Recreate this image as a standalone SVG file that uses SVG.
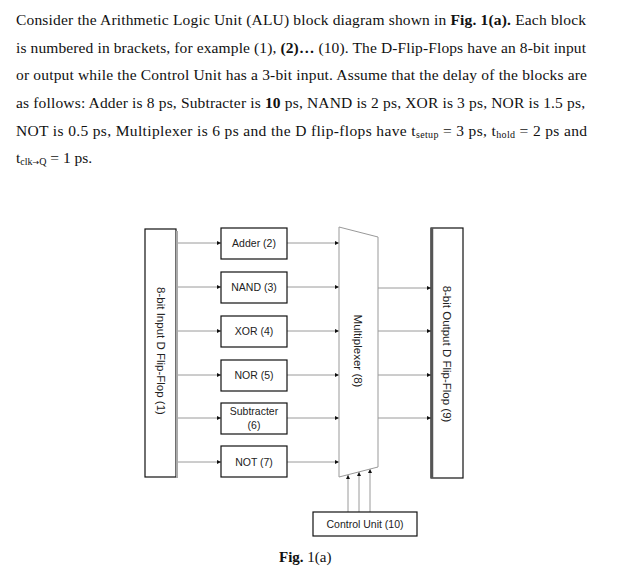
<svg xmlns="http://www.w3.org/2000/svg" width="619" height="580" viewBox="0 0 619 580">
<style>
.p{font-family:"Liberation Serif","Times New Roman",serif;font-size:15.5px;fill:#111}
.b{font-weight:bold}
.s{font-family:"Liberation Serif","Times New Roman",serif;font-size:10px}
.ar{font-family:"DejaVu Sans",sans-serif;font-size:8px}
.lbl{font-family:"Liberation Sans",Arial,sans-serif;font-size:10.5px;fill:#222;text-anchor:middle}
.vl{font-size:11.5px}
.box{fill:#fff;stroke:#111;stroke-width:1.2}
.con{stroke:#9a9a9a;stroke-width:1;fill:none}
</style>
<defs>
<marker id="ah" markerUnits="userSpaceOnUse" markerWidth="5" markerHeight="5" refX="4" refY="2" orient="auto">
<path d="M0,0 L4,2 L0,4 Z" fill="#111"/>
</marker>
</defs>
<rect width="619" height="580" fill="#fff"/>
<g id="paragraph">
<text class="p" x="16" y="25" textLength="570" lengthAdjust="spacing">Consider the Arithmetic Logic Unit (ALU) block diagram shown in <tspan class="b">Fig. 1(a).</tspan> Each block</text>
<text class="p" x="16" y="53" textLength="570" lengthAdjust="spacing">is numbered in brackets, for example (1), <tspan class="b">(2)…</tspan> (10). The D-Flip-Flops have an 8-bit input</text>
<text class="p" x="16" y="80" textLength="571" lengthAdjust="spacing">or output while the Control Unit has a 3-bit input. Assume that the delay of the blocks are</text>
<text class="p" x="16" y="108" textLength="569" lengthAdjust="spacing">as follows:  Adder is 8 ps, Subtracter is <tspan class="b">10</tspan> ps, NAND is 2 ps, XOR is 3 ps, NOR is 1.5 ps,</text>
<text class="p" x="16" y="136" textLength="571" lengthAdjust="spacing">NOT is 0.5 ps, Multiplexer is 6 ps and the D flip-flops have t<tspan class="s" dy="2">setup</tspan><tspan dy="-2"> = 3 ps, t</tspan><tspan class="s" dy="2">hold</tspan><tspan dy="-2"> = 2 ps and</tspan></text>
<text class="p" x="16" y="163">t<tspan class="s" dy="2">clk</tspan><tspan class="ar">→</tspan><tspan class="s">Q</tspan><tspan dy="-2"> = 1 ps.</tspan></text>
</g>
<g id="connectors">
<line class="con" x1="177" y1="243" x2="221" y2="243" marker-end="url(#ah)"/>
<line class="con" x1="177" y1="287" x2="221" y2="287" marker-end="url(#ah)"/>
<line class="con" x1="177" y1="331" x2="221" y2="331" marker-end="url(#ah)"/>
<line class="con" x1="177" y1="375" x2="221" y2="375" marker-end="url(#ah)"/>
<line class="con" x1="177" y1="418" x2="221" y2="418" marker-end="url(#ah)"/>
<line class="con" x1="177" y1="462" x2="221" y2="462" marker-end="url(#ah)"/>
<line class="con" x1="287" y1="243" x2="339" y2="243" marker-end="url(#ah)"/>
<line class="con" x1="287" y1="287" x2="339" y2="287" marker-end="url(#ah)"/>
<line class="con" x1="287" y1="331" x2="339" y2="331" marker-end="url(#ah)"/>
<line class="con" x1="287" y1="375" x2="339" y2="375" marker-end="url(#ah)"/>
<line class="con" x1="287" y1="418" x2="339" y2="418" marker-end="url(#ah)"/>
<line class="con" x1="287" y1="462" x2="339" y2="462" marker-end="url(#ah)"/>
<line class="con" x1="378" y1="288" x2="431" y2="288" marker-end="url(#ah)"/>
<line class="con" x1="378" y1="331" x2="431" y2="331" marker-end="url(#ah)"/>
<line class="con" x1="378" y1="375" x2="431" y2="375" marker-end="url(#ah)"/>
<line class="con" x1="378" y1="418" x2="431" y2="418" marker-end="url(#ah)"/>
<line class="con" x1="348" y1="512" x2="348" y2="475" marker-end="url(#ah)"/>
<line class="con" x1="359" y1="512" x2="359" y2="472" marker-end="url(#ah)"/>
<line class="con" x1="370" y1="512" x2="370" y2="469" marker-end="url(#ah)"/>
</g>
<g id="input-ff">
<rect class="box" x="145" y="229" width="31" height="248"/>
<line x1="177" y1="231" x2="177" y2="478" stroke="#aaa" stroke-width="2"/>
<text class="lbl vl" transform="translate(157,351) rotate(90)">8-bit Input D Flip-Flop (1)</text>
</g>
<g id="adder">
<rect class="box" x="221" y="228" width="66" height="31"/>
<text class="lbl" x="254" y="247">Adder (2)</text>
</g>
<g id="nand">
<rect class="box" x="221" y="272" width="66" height="31"/>
<text class="lbl" x="254" y="291">NAND (3)</text>
</g>
<g id="xor">
<rect class="box" x="221" y="316" width="66" height="31"/>
<text class="lbl" x="254" y="335">XOR (4)</text>
</g>
<g id="nor">
<rect class="box" x="221" y="360" width="66" height="31"/>
<text class="lbl" x="254" y="379">NOR (5)</text>
</g>
<g id="subtracter">
<rect class="box" x="221" y="403" width="66" height="31"/>
<text class="lbl" x="254" y="415">Subtracter</text>
<text class="lbl" x="254" y="429">(6)</text>
</g>
<g id="not">
<rect class="box" x="221" y="446" width="66" height="31"/>
<text class="lbl" x="254" y="466">NOT (7)</text>
</g>
<g id="multiplexer">
<path d="M339,227 L378,237 L378,467 L339,477 Z" fill="#fff" stroke="#999" stroke-width="1"/>
<text class="lbl vl" transform="translate(354,351) rotate(90)">Multiplexer (8)</text>
</g>
<g id="output-ff">
<rect class="box" x="431" y="228" width="32" height="250"/>
<line x1="432" y1="228" x2="432" y2="478" stroke="#555" stroke-width="2.5"/>
<text class="lbl vl" transform="translate(443,354) rotate(90)">8-bit Output D Flip-Flop (9)</text>
</g>
<g id="control-unit">
<rect class="box" x="313" y="512" width="104" height="24"/>
<text class="lbl" x="365" y="528">Control Unit (10)</text>
</g>
<g id="caption">
<text class="p" x="279" y="562" style="font-size:15px"><tspan class="b">Fig.</tspan> 1(a)</text>
</g>
</svg>
